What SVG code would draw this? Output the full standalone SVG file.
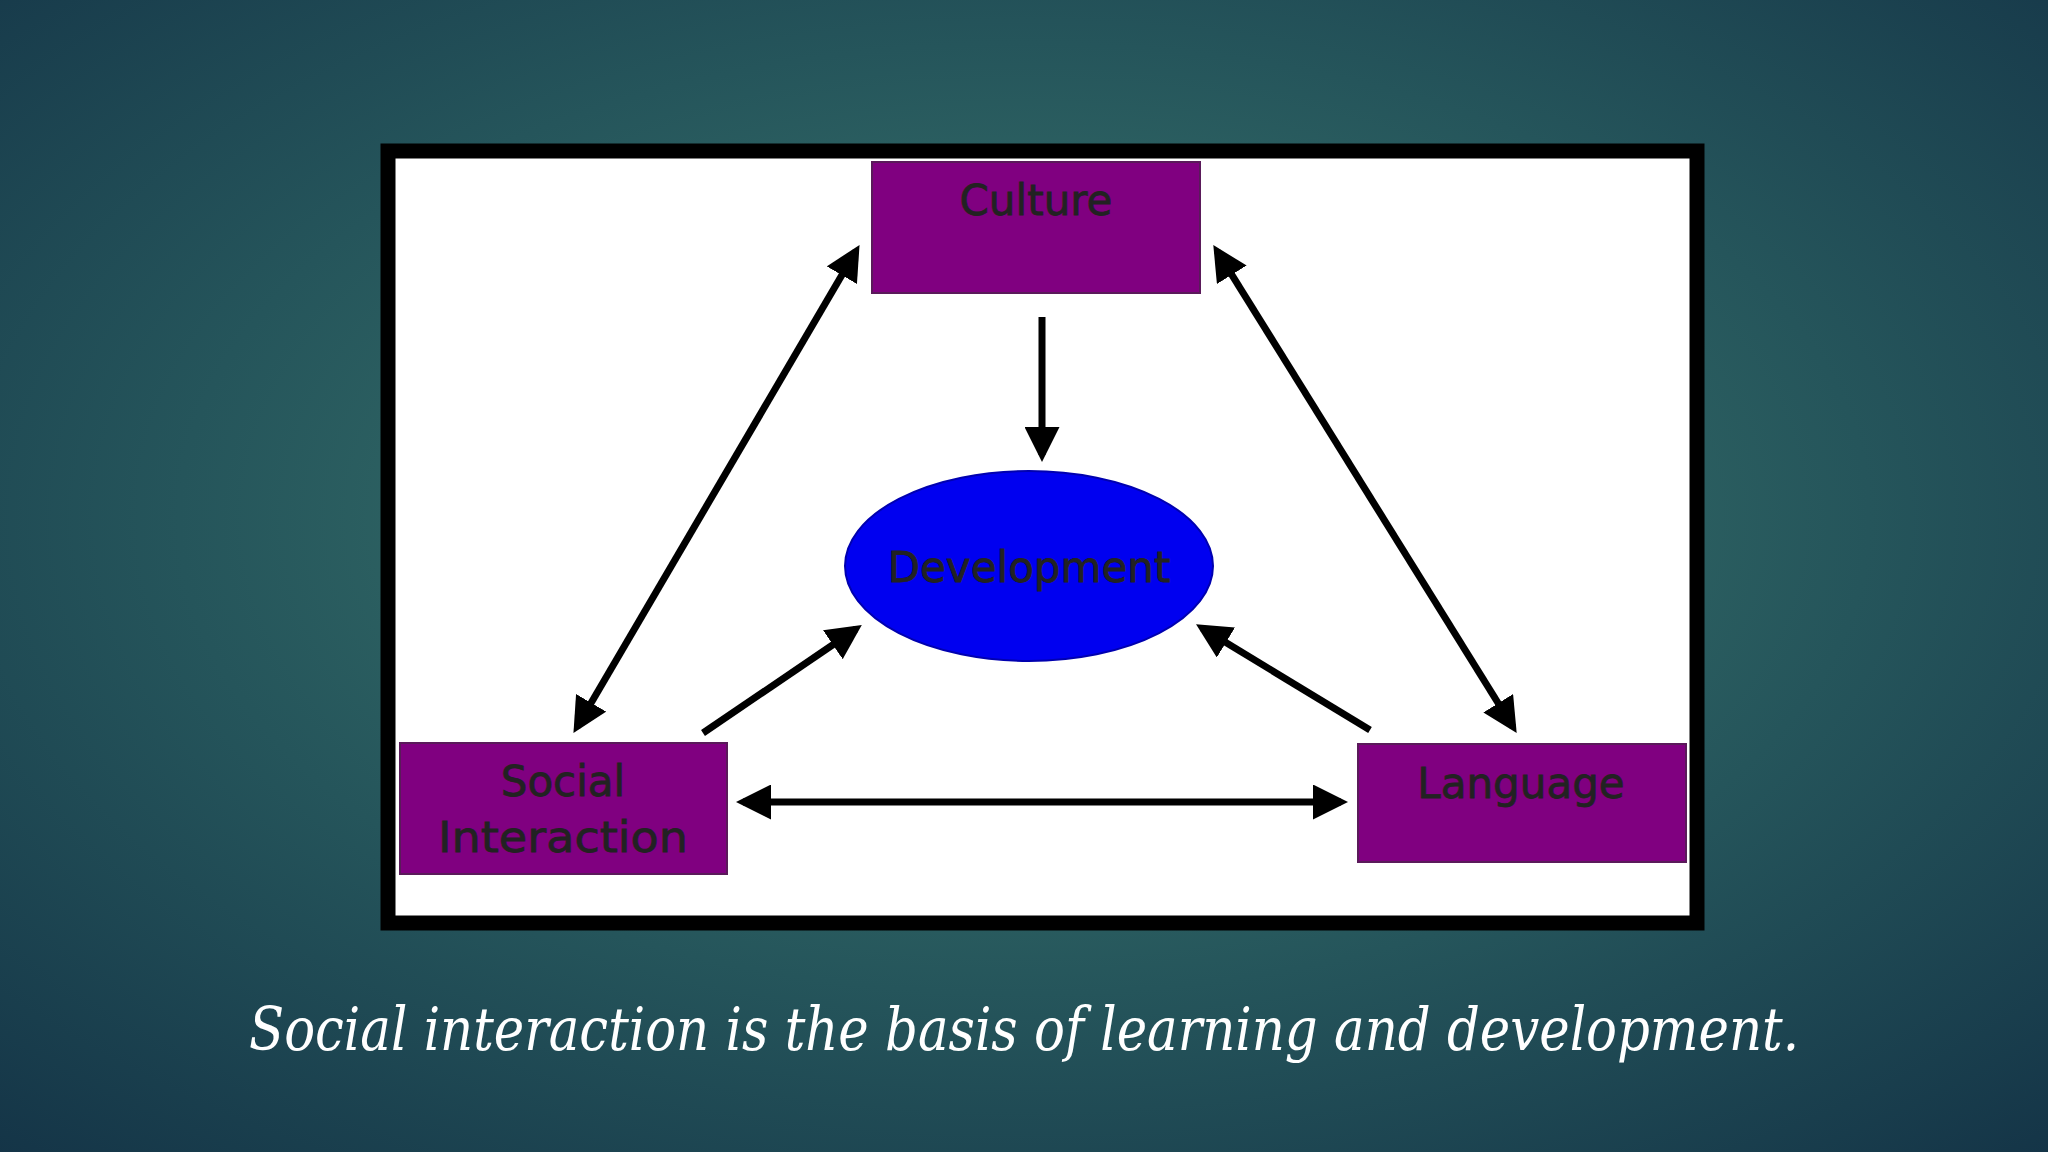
<svg xmlns="http://www.w3.org/2000/svg" width="2048" height="1152" viewBox="0 0 2048 1152">
<defs>
<radialGradient id="bg" cx="0.5" cy="0.45" r="0.75">
<stop offset="0" stop-color="#3e7d71"/>
<stop offset="0.55" stop-color="#25555b"/>
<stop offset="1" stop-color="#143447"/>
</radialGradient>
<marker id="ah" viewBox="0 0 10 10" refX="8" refY="5" markerWidth="5" markerHeight="5" orient="auto-start-reverse" markerUnits="strokeWidth">
<path d="M0,0 L10,5 L0,10 Z" fill="#000"/>
</marker>
<style>
.box{fill:#800080;stroke:#5a1a5a;stroke-width:2}
.lbl{font-family:"DejaVu Sans",sans-serif;font-size:42px;fill:#222;text-anchor:middle;stroke:#222;stroke-width:0.8}
.c{stroke:#000;stroke-width:7;fill:none}
</style>
</defs>
<rect width="2048" height="1152" fill="url(#bg)"/>
<rect x="388" y="151" width="1309" height="772" fill="#fff" stroke="#000" stroke-width="15"/>
<g id="connectors">
<line class="c" x1="1042" y1="317" x2="1042" y2="455" marker-end="url(#ah)"/>
<line class="c" x1="577" y1="727" x2="856" y2="251" marker-start="url(#ah)" marker-end="url(#ah)"/>
<line class="c" x1="1217" y1="251" x2="1513" y2="727" marker-start="url(#ah)" marker-end="url(#ah)"/>
<line class="c" x1="743" y1="802" x2="1341" y2="802" marker-start="url(#ah)" marker-end="url(#ah)"/>
<line class="c" x1="703" y1="733" x2="856" y2="629" marker-end="url(#ah)"/>
<line class="c" x1="1370" y1="730" x2="1202" y2="628" marker-end="url(#ah)"/>
</g>
<g id="culture"><rect class="box" x="872" y="162" width="328" height="131"/><text class="lbl" x="1036" y="215">Culture</text></g>
<g id="social"><rect class="box" x="400" y="743" width="327" height="131"/><text class="lbl" x="563" y="796">Social</text><text class="lbl" x="563" y="852" textLength="250" lengthAdjust="spacingAndGlyphs">Interaction</text></g>
<g id="language"><rect class="box" x="1358" y="744" width="328" height="118"/><text class="lbl" x="1521" y="798">Language</text></g>
<g id="development"><ellipse cx="1029" cy="566" rx="184" ry="95" fill="#0000f0" stroke="#0000b0" stroke-width="2"/><text class="lbl" x="1029" y="582" fill="#111">Development</text></g>
<text x="1024" y="1050" font-family="DejaVu Serif,serif" font-style="italic" font-size="60" fill="#fff" text-anchor="middle" textLength="1550" lengthAdjust="spacingAndGlyphs">Social interaction is the basis of learning and development.</text>
</svg>
